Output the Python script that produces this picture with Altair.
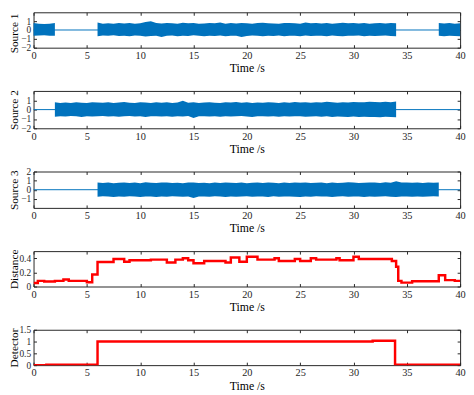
import altair as alt
import pandas as pd

# ---------------- data ----------------
x_ticks = [0, 5, 10, 15, 20, 25, 30, 35, 40]

# Source 1: active segments 0-2 s, 6-34 s, 38-40 s (envelope every 0.5 s)
s1a_hi = [0.78, 0.70, 0.68, 0.72, 0.80]
s1a_lo = [-0.66, -0.62, -0.60, -0.64, -0.66]
s1b_hi = [0.85, 0.72, 0.75, 0.70, 0.78, 0.74, 0.80, 0.72, 0.76, 0.90,
          1.00, 0.78, 0.74, 0.80, 0.76, 0.72, 0.82, 0.75, 0.78, 0.70,
          0.74, 0.80, 0.76, 0.85, 0.72, 0.78, 0.74, 0.80, 0.75, 0.72,
          0.78, 0.82, 0.76, 0.74, 0.70, 0.80, 0.78, 0.75, 0.72, 0.85,
          0.76, 0.80, 0.74, 0.78, 0.72, 0.76, 0.82, 0.75, 0.80, 0.74,
          0.78, 0.72, 0.76, 0.80, 0.74, 0.78, 0.75]
s1b_lo = [-0.70, -0.62, -0.66, -0.60, -0.68, -0.64, -0.72, -0.62, -0.66, -0.74,
          -0.68, -0.64, -0.80, -0.66, -0.62, -0.70, -0.64, -0.68, -0.60, -0.66,
          -0.72, -0.64, -0.68, -0.62, -0.70, -0.66, -0.64, -0.78, -0.68, -0.62,
          -0.66, -0.70, -0.64, -0.68, -0.62, -0.72, -0.66, -0.64, -0.70, -0.62,
          -0.68, -0.64, -0.66, -0.72, -0.62, -0.68, -0.70, -0.64, -0.66, -0.62,
          -0.70, -0.64, -0.68, -0.66, -0.62, -0.68, -0.72]
s1c_hi = [0.80, 0.74, 0.78, 0.72, 0.76]
s1c_lo = [-0.66, -0.70, -0.64, -0.68, -0.70]

# Source 2: active 2-34 s
s2_hi = [0.80, 0.72, 0.76, 0.70, 0.78, 0.74, 0.72, 0.80, 0.76, 0.74,
         0.78, 0.72, 0.76, 0.82, 0.74, 0.70, 0.78, 0.76, 0.72, 0.80,
         0.74, 0.78, 0.72, 0.76, 0.95, 0.74, 0.78, 0.72, 0.76, 0.80,
         0.74, 0.72, 0.78, 0.76, 0.82, 0.74, 0.78, 0.72, 0.76, 0.74,
         0.80, 0.76, 0.72, 0.78, 0.74, 0.82, 0.76, 0.78, 0.74, 0.80,
         0.76, 0.85, 0.78, 0.74, 0.80, 0.76, 0.82, 0.78, 0.80, 0.84,
         0.82, 0.78, 0.84, 0.80, 0.86]
s2_lo = [-0.76, -0.70, -0.74, -0.68, -0.72, -0.78, -0.70, -0.74, -0.72, -0.68,
         -0.74, -0.70, -0.76, -0.72, -0.68, -0.74, -0.70, -0.78, -0.72, -0.70,
         -0.74, -0.72, -0.76, -0.70, -0.74, -0.68, -0.90, -0.72, -0.70, -0.74,
         -0.72, -0.76, -0.70, -0.74, -0.72, -0.68, -0.74, -0.78, -0.72, -0.70,
         -0.74, -0.70, -0.76, -0.72, -0.74, -0.70, -0.72, -0.76, -0.74, -0.70,
         -0.76, -0.72, -0.78, -0.74, -0.76, -0.80, -0.74, -0.78, -0.76, -0.80,
         -0.78, -0.82, -0.76, -0.80, -0.82]

# Source 3: active 6-38 s
s3_hi = [0.80, 0.74, 0.78, 0.72, 0.76, 0.80, 0.74, 0.78, 0.72, 0.82,
         0.76, 0.74, 0.78, 0.80, 0.74, 0.76, 0.72, 0.78, 0.80, 0.74,
         0.76, 0.72, 0.78, 0.74, 0.80, 0.76, 0.74, 0.78, 0.72, 0.76,
         0.80, 0.74, 0.78, 0.76, 0.72, 0.78, 0.74, 0.80, 0.76, 0.78,
         0.74, 0.76, 0.80, 0.72, 0.78, 0.74, 0.76, 0.82, 0.78, 0.74,
         0.76, 0.80, 0.78, 0.74, 0.82, 0.76, 0.92, 0.78, 0.80, 0.76,
         0.78, 0.74, 0.80, 0.76, 0.78]
s3_lo = [-0.78, -0.72, -0.76, -0.80, -0.74, -0.78, -0.72, -0.76, -0.80, -0.74,
         -0.76, -0.80, -0.74, -0.78, -0.72, -0.76, -0.78, -0.74, -0.90, -0.76,
         -0.74, -0.78, -0.72, -0.76, -0.80, -0.74, -0.78, -0.76, -0.72, -0.78,
         -0.76, -0.74, -0.80, -0.72, -0.78, -0.76, -0.74, -0.78, -0.80, -0.74,
         -0.78, -0.72, -0.76, -0.74, -0.80, -0.76, -0.72, -0.78, -0.74, -0.76,
         -0.80, -0.74, -0.78, -0.76, -0.72, -0.78, -0.80, -0.74, -0.76, -0.78,
         -0.74, -0.78, -0.76, -0.72, -0.76]

# Distance (step function)
dist_t = [0, 0.4, 1.0, 2.0, 2.8, 3.3, 5.0, 5.5, 6.0, 7.5, 8.5, 9.0, 11.0, 12.5,
          13.3, 14.0, 14.5, 15.0, 16.0, 18.0, 18.5, 19.3, 20.0, 21.0, 22.6, 23.0,
          24.5, 25.0, 26.0, 26.5, 28.4, 28.7, 30.0, 30.5, 33.6, 34.0, 34.2, 34.5,
          35.5, 38.0, 38.6, 39.5, 40.0]
dist_v = [0.05, 0.08, 0.07, 0.08, 0.10, 0.08, 0.06, 0.17, 0.345, 0.39, 0.35, 0.37,
          0.38, 0.34, 0.38, 0.40, 0.37, 0.33, 0.36, 0.34, 0.41, 0.35, 0.42, 0.38,
          0.40, 0.36, 0.39, 0.36, 0.40, 0.38, 0.40, 0.37, 0.42, 0.39, 0.36, 0.28,
          0.08, 0.055, 0.075, 0.16, 0.09, 0.08, 0.08]

# Detector (step function)
det_t = [0, 1.2, 6.0, 31.8, 33.9, 40.0]
det_v = [0.0, 0.02, 1.0, 1.03, 0.02, 0.02]

BLUE = "#0072BD"
RED = "#FF0000"
FONT = "Liberation Serif"
INK = "#262626"
W = 434


def seg_rows(start, hi, lo, seg):
    return [{"t": start + 0.5 * i, "hi": h, "lo": l, "seg": seg}
            for i, (h, l) in enumerate(zip(hi, lo))]


xscale = alt.Scale(domain=[0, 40], nice=False, zero=False)


def axes(yticks, ytitle, h, tshift=0.0):
    bottom = alt.Axis(orient="bottom", values=x_ticks, offset=-3, tickSize=3,
                      domain=False, grid=False, labelPadding=3, title="Time /s",
                      titlePadding=2, titleFontSize=12, labelOverlap=False,
                      labelFlush=False, format="~g", labelFont=FONT,
                      labelFontSize=10.5,
                      titleFont=FONT, titleFontWeight="normal")
    left = alt.Axis(orient="left", values=yticks, offset=-3, tickSize=3,
                    domain=False, grid=False, labelPadding=3, title=ytitle,
                    titleAngle=-90, titleBaseline="top", titleAlign="center",
                    titleX=-28, titleY=h / 2 + tshift, titleFontSize=11.5,
                    labelOverlap=False, labelFlush=False, format="~g",
                    labelFont=FONT, labelFontSize=9.5,
                    titleFont=FONT, titleFontWeight="normal")
    top = alt.Axis(orient="top", values=x_ticks, offset=-3, tickSize=3,
                   domain=False, grid=False, labels=False, title=None)
    right = alt.Axis(orient="right", values=yticks, offset=-3, tickSize=3,
                     domain=False, grid=False, labels=False, title=None)
    return bottom, left, top, right


def frame_layer(ydom, top, right, yscale):
    df = pd.DataFrame({"t": [0, 40], "v": ydom})
    return alt.Chart(df).mark_point(opacity=0, size=0, clip=True).encode(
        x=alt.X("t:Q", scale=xscale, axis=top),
        y=alt.Y("v:Q", scale=yscale, axis=right),
    )


def source_panel(rows, ytitle, yticks, h, tshift=0.0):
    ydom = [-2, 2]
    yscale = alt.Scale(domain=ydom, nice=False, zero=False)
    bottom, left, top, right = axes(yticks, ytitle, h, tshift)
    df = pd.DataFrame(rows)
    band = alt.Chart(df).mark_area(color=BLUE, opacity=1, interpolate="linear").encode(
        x=alt.X("t:Q", scale=xscale, axis=bottom),
        y=alt.Y("hi:Q", scale=yscale, axis=left),
        y2="lo:Q",
        detail="seg:N",
    )
    zero = alt.Chart(pd.DataFrame({"t": [0, 40], "v": [0, 0]})).mark_line(
        color=BLUE, strokeWidth=1).encode(
        x=alt.X("t:Q", scale=xscale, axis=None),
        y=alt.Y("v:Q", scale=yscale, axis=None),
    )
    return alt.layer(zero, band, frame_layer(ydom, top, right, yscale)).resolve_axis(
        x="independent", y="independent").properties(width=W, height=h)


def step_panel(ts, vs, ytitle, yticks, ydom, h):
    yscale = alt.Scale(domain=ydom, nice=False, zero=False)
    bottom, left, top, right = axes(yticks, ytitle, h)
    df = pd.DataFrame({"t": ts, "v": vs})
    line = alt.Chart(df).mark_line(color=RED, strokeWidth=2.5, clip=True,
                                   interpolate="step-after").encode(
        x=alt.X("t:Q", scale=xscale, axis=bottom),
        y=alt.Y("v:Q", scale=yscale, axis=left),
    )
    return alt.layer(line, frame_layer(ydom, top, right, yscale)).resolve_axis(
        x="independent", y="independent").properties(width=W, height=h)


rows1 = seg_rows(0, s1a_hi, s1a_lo, "a") + seg_rows(6, s1b_hi, s1b_lo, "b") + \
    seg_rows(38, s1c_hi, s1c_lo, "c")
rows2 = seg_rows(2, s2_hi, s2_lo, "a")
rows3 = seg_rows(6, s3_hi, s3_lo, "a")

p1 = source_panel(rows1, "Source 1", [-2, -1, 0, 1], 36, tshift=3)
p2 = source_panel(rows2, "Source 2", [-2, -1, 0, 1], 38)
p3 = source_panel(rows3, "Source 3", [-1, 0, 1, 2], 37)
p4 = step_panel(dist_t, dist_v, "Distance", [0, 0.2, 0.4], [0, 0.5], 36)
p5 = step_panel(det_t, det_v, "Detector", [0, 0.5, 1, 1.5], [0, 1.5], 36)

chart = alt.vconcat(p1, p2, p3, p4, p5, spacing=44, bounds="flush").properties(
    padding={"left": 0, "top": 0, "right": 0, "bottom": 0}
).configure_view(stroke=INK, strokeWidth=1).configure_axis(
    labelFont=FONT, titleFont=FONT, labelColor=INK,
    titleColor="#000000", titleFontWeight="normal", tickColor=INK, tickWidth=1,
)

chart.save("out.html", embed_options={"renderer": "svg", "actions": False})
